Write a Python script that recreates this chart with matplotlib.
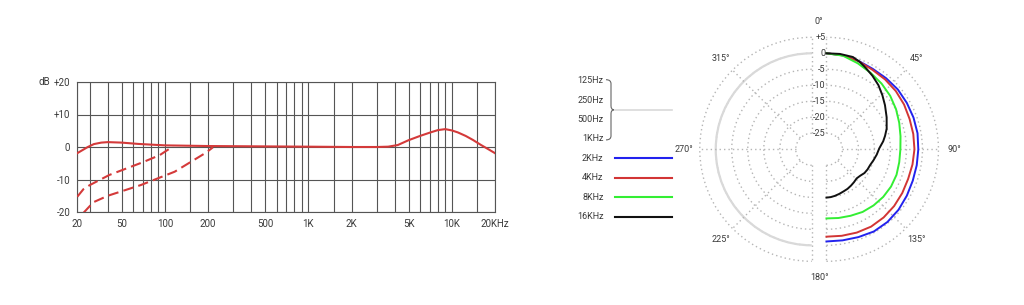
import matplotlib.pyplot as plt
import numpy as np
from matplotlib.path import Path
from matplotlib.patches import PathPatch, Arc
from matplotlib.ticker import NullFormatter

plt.rcParams['font.family'] = ['Roboto', 'DejaVu Sans']

# frequency response (Hz, dB)
resp_freq = [24.5, 27, 29, 32, 36, 40, 50, 65, 100, 200, 1000, 2000, 3000, 3600, 4200, 5000,
             6000, 7000, 8000, 9000, 10000, 11000, 12500, 14000, 16000, 18000, 20000]
resp_db = [-1.9, -0.8, 0.0, 0.9, 1.35, 1.5, 1.35, 0.95, 0.5, 0.3, 0.1, 0.0, 0.0, 0.1, 0.6, 2.1,
           3.4, 4.4, 5.2, 5.5, 5.1, 4.5, 3.4, 2.2, 0.6, -0.7, -1.9]
cut1_freq = [24.5, 27, 30, 41, 70, 92, 114]
cut1_db = [-15.3, -13.0, -11.7, -8.6, -4.7, -2.5, 0.2]
cut2_freq = [27, 31.7, 40, 68, 117, 194, 216]
cut2_db = [-20.3, -17.0, -15.0, -11.7, -7.6, -1.7, -0.1]

tick_freq = [24.5, 50, 100, 200, 500, 1000, 2000, 5000, 10000, 20000]
tick_lbl = ['20', '50', '100', '200', '500', '1K', '2K', '5K', '10K', '20KHz']
grid_freq = [30, 40, 50, 60, 70, 80, 90, 100, 150, 200, 300, 400, 500, 600, 700, 800, 900,
             1000, 1500, 2000, 3000, 4000, 5000, 6000, 7000, 8000, 9000, 10000, 15000]
db_ticks = [-20, -10, 0, 10, 20]
db_lbl = ['-20', '-10', '0', '+10', '+20']

# polar pattern (degrees clockwise from front, dB)
ang_10 = list(range(0, 181, 10))
db_2k = [0, -0.2, -0.6, -1.0, -1.0, -0.9, -1.0, -1.05, -1.1, -1.3, -1.35, -1.3, -1.0, -0.6,
         -0.35, -0.35, -0.8, -1.1, -1.2]
db_4k = [0, -0.2, -0.7, -1.3, -1.5, -1.7, -2.0, -2.35, -2.45, -2.5, -2.7, -2.85, -2.65, -2.4,
         -2.2, -2.1, -2.3, -2.55, -2.7]
db_8k = [0, -0.3, -1.4, -2.4, -3.2, -4.0, -4.9, -5.8, -6.5, -6.9, -6.9, -6.7, -6.7, -6.85,
         -7.1, -7.4, -7.9, -8.2, -8.4]
ang_16k = [0, 8, 16, 21, 26, 32, 39, 46, 53, 62, 71, 77, 82, 89, 96, 103, 110, 116, 122, 128,
           134, 140, 146, 152, 158, 164, 170, 175, 180]
db_16k = [0, 0.1, 0.0, -0.8, -1.8, -2.9, -4.2, -5.7, -7.1, -8.7, -10.1, -11.2, -12.1, -13.5,
          -14.2, -14.9, -15.5, -15.7, -16.0, -16.6, -16.9, -16.6, -16.3, -16.0, -15.8, -15.5,
          -15.2, -15.0, -14.9]
low_db = 0  # 125Hz..1KHz, left half

rings = [5, 0, -5, -10, -15, -20, -25]
ring_lbl = ['+5', '0', '-5', '-10', '-15', '-20', '-25']
spokes_r = [0, 45, 90, 135, 180]
spokes_l = [180, 225, 270, 315, 360]

legend_lbl = ['125Hz', '250Hz', '500Hz', '1KHz', '2KHz', '4KHz', '8KHz', '16KHz']
band_colors = ['#2222ee', '#d23535', '#33ee33', '#111111']
LOW_GRAY = '#d9d9d9'
RED = '#d43a3a'
GRID = '#555555'
DOT = '#b5b5b5'
TXT = '#3a3a3a'

W, H = 1024, 305
fig = plt.figure(figsize=(W / 100, H / 100), dpi=100)


def px_box(x0, y0, x1, y1):
    return [x0 / W, 1 - y1 / H, (x1 - x0) / W, (y1 - y0) / H]


# ---- frequency response chart
ax = fig.add_axes(px_box(77.3, 82, 495, 212))
ax.set_xscale('log')
ax.plot(resp_freq, resp_db, color=RED, lw=1.5, zorder=3)
ax.plot(cut1_freq, cut1_db, color=RED, lw=1.5, ls=(0, (5, 2.5)), zorder=3)
ax.plot(cut2_freq, cut2_db, color=RED, lw=1.5, ls=(0, (5, 2.5)), zorder=3)
ax.set_xlim(24.5, 20000)
ax.set_ylim(-20, 20)
ax.set_xticks(tick_freq)
ax.set_xticklabels(tick_lbl)
ax.set_xticks(grid_freq, minor=True)
ax.xaxis.set_minor_formatter(NullFormatter())
ax.set_yticks(db_ticks)
ax.set_yticklabels(db_lbl)
ax.grid(which='both', color=GRID, lw=0.8)
ax.tick_params(which='both', length=0, labelsize=7, labelcolor=TXT, pad=5)
for s in ax.spines.values():
    s.set_color(GRID)
    s.set_linewidth(0.8)
ax.annotate('dB', xy=(0, 1), xycoords='axes fraction', xytext=(-19.5, 0),
            textcoords='offset points', ha='right', va='center', fontsize=7, color=TXT)

# ---- legend (pixel overlay)
ov = fig.add_axes([0, 0, 1, 1], zorder=-1)
ov.set_xlim(0, W)
ov.set_ylim(H, 0)
ov.axis('off')
row_y = [80.7 + i * 19.4 for i in range(len(legend_lbl))]
for y, lbl in zip(row_y, legend_lbl):
    ov.text(603.5, y, lbl, ha='right', va='center', fontsize=6.5, color=TXT)
for y, c in zip(row_y[4:], band_colors):
    ov.plot([615, 672], [y, y], color=c, lw=1.5)
mid = (row_y[0] + row_y[3]) / 2
ov.plot([615, 672], [mid, mid], color=LOW_GRAY, lw=1.2)
y0, y1 = row_y[0] - 1, row_y[3] + 1
verts = [(606, y0), (611, y0), (611, y0 + 4), (611, mid - 4), (611, mid), (614, mid),
         (611, mid), (611, mid + 4), (611, y1 - 4), (611, y1), (606, y1)]
codes = [Path.MOVETO, Path.CURVE3, Path.CURVE3, Path.LINETO, Path.CURVE3, Path.CURVE3,
         Path.CURVE3, Path.CURVE3, Path.LINETO, Path.CURVE3, Path.CURVE3]
ov.add_patch(PathPatch(Path(verts, codes), fill=False, edgecolor='#666666', lw=0.8))

# ---- polar pattern: two half-plots split by a label strip
R0 = -30            # dB at the centre
OFF = 2.3           # half of the label strip, in dB units
ap = fig.add_axes(px_box(819.1 - 128, 149.3 - 128, 819.1 + 128, 149.3 + 128))
ap.set_xlim(-40, 40)
ap.set_ylim(-40, 40)
ap.set_aspect('equal')
ap.axis('off')


def to_xy(ang_deg, db, side):
    t = np.deg2rad(ang_deg)
    r = np.asarray(db, dtype=float) - R0
    return side * OFF + r * np.sin(t), r * np.cos(t)


dot = (0, (1, 2.2))
for r in rings:
    d = 2 * (r - R0)
    ap.add_patch(Arc((OFF, 0), d, d, theta1=-90, theta2=90, color=DOT, lw=1.0, ls=dot))
    ap.add_patch(Arc((-OFF, 0), d, d, theta1=90, theta2=270, color=DOT, lw=1.0, ls=dot))
for spokes, side in [(spokes_r, 1), (spokes_l, -1)]:
    for a in spokes:
        xs, ys = to_xy([a, a], [rings[-1], rings[0]], side)
        ap.plot(xs, ys, color=DOT, lw=1.0, ls=dot)

d0 = 2 * (low_db - R0)
ap.add_patch(Arc((-OFF, 0), d0, d0, theta1=90, theta2=270, color=LOW_GRAY, lw=1.6))
for ang, db, c in [(ang_10, db_2k, band_colors[0]), (ang_10, db_4k, band_colors[1]),
                   (ang_10, db_8k, band_colors[2]), (ang_16k, db_16k, band_colors[3])]:
    xs, ys = to_xy(ang, db, 1)
    ap.plot(xs, ys, color=c, lw=1.4, solid_joinstyle='round')

for r, lbl in zip(rings, ring_lbl):
    ap.annotate(lbl, xy=(OFF, r - R0), xytext=(-0.6, 0), textcoords='offset points',
                ha='right', va='center', fontsize=6.5, color=TXT)

lab_r = 10
for a in [45, 90, 135]:
    xs, ys = to_xy([a], [lab_r], 1)
    ap.text(xs[0], ys[0], f'{a}°', ha='center', va='center', fontsize=6.5, color=TXT)
for a in [225, 270, 315]:
    xs, ys = to_xy([a], [lab_r], -1)
    ap.text(xs[0], ys[0], f'{a}°', ha='center', va='center', fontsize=6.5, color=TXT)
for a in [0, 180]:
    xs, ys = to_xy([a], [lab_r], 0)
    ap.text(xs[0], ys[0], f'{a}°', ha='center', va='center', fontsize=6.5, color=TXT)

fig.savefig('out.png', dpi=100, facecolor='white')
